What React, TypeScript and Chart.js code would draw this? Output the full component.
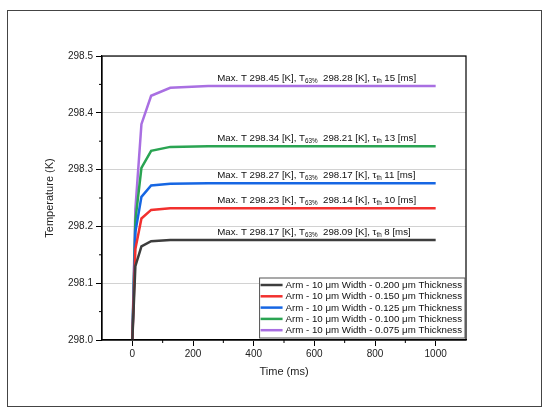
import { useEffect, useRef } from "react";
import { Chart, registerables } from "chart.js";

Chart.register(...registerables);

// time samples (ms)
const times = [0, 10, 30, 62, 125, 250, 500, 1000];

// temperature (K) for each thickness
const temp200 = [298.0, 298.13, 298.165, 298.174, 298.176, 298.176, 298.176, 298.176];
const temp150 = [298.0, 298.16, 298.214, 298.229, 298.232, 298.232, 298.232, 298.232];
const temp125 = [298.0, 298.19, 298.252, 298.272, 298.275, 298.276, 298.276, 298.276];
const temp100 = [298.0, 298.21, 298.303, 298.333, 298.34, 298.341, 298.341, 298.341];
const temp075 = [298.0, 298.23, 298.38, 298.43, 298.444, 298.447, 298.447, 298.447];

const seriesLabels = [
  "Arm - 10 μm Width - 0.200 μm Thickness",
  "Arm - 10 μm Width - 0.150 μm Thickness",
  "Arm - 10 μm Width - 0.125 μm Thickness",
  "Arm - 10 μm Width - 0.100 μm Thickness",
  "Arm - 10 μm Width - 0.075 μm Thickness",
];
const seriesColors = ["#3d3d3d", "#f2302e", "#1666e3", "#2aa452", "#a96fe2"];

// annotation values
const maxT = ["298.17", "298.23", "298.27", "298.34", "298.45"];
const t63 = ["298.09", "298.14", "298.17", "298.21", "298.28"];
const tauTh = ["8", "10", "11", "13", "15"];

const xTicks = [0, 200, 400, 600, 800, 1000];
const xMinorTicks = [100, 300, 500, 700, 900];
const yTicks = [298.0, 298.1, 298.2, 298.3, 298.4, 298.5];
const yMinorTicks = [298.05, 298.15, 298.25, 298.35, 298.45];

const FONT = '"Liberation Sans", Arial, sans-serif';
const LABEL_T = 280;

const framePlugin = {
  id: "frame",
  afterDraw(chart: any) {
    const { ctx, chartArea: a, scales } = chart;
    ctx.save();
    ctx.strokeStyle = "#000";
    ctx.lineWidth = 1.2;
    ctx.strokeRect(a.left, a.top, a.right - a.left, a.bottom - a.top);
    ctx.lineWidth = 1;
    ctx.beginPath();
    xMinorTicks.forEach((v) => {
      const px = scales.x.getPixelForValue(v);
      ctx.moveTo(px, a.bottom);
      ctx.lineTo(px, a.bottom + 3);
    });
    yMinorTicks.forEach((v) => {
      const py = scales.y.getPixelForValue(v);
      ctx.moveTo(a.left, py);
      ctx.lineTo(a.left - 3, py);
    });
    ctx.stroke();
    ctx.restore();
  },
};

const notesPlugin = {
  id: "notes",
  afterDatasetsDraw(chart: any) {
    const { ctx, scales } = chart;
    ctx.save();
    ctx.fillStyle = "#111";
    ctx.textBaseline = "middle";
    ctx.textAlign = "left";
    chart.data.datasets.forEach((ds: any, i: number) => {
      const last = ds.data[ds.data.length - 1].y;
      let px = scales.x.getPixelForValue(LABEL_T);
      const py = scales.y.getPixelForValue(last) - 8;
      const parts = [
        { s: "Max. T " + maxT[i] + " [K], T", sub: false },
        { s: "63%", sub: true },
        { s: "  " + t63[i] + " [K], τ", sub: false },
        { s: "th", sub: true },
        { s: " " + tauTh[i] + " [ms]", sub: false },
      ];
      parts.forEach((p) => {
        ctx.font = (p.sub ? "6.3px " : "9.7px ") + FONT;
        ctx.fillText(p.s, px, p.sub ? py + 3 : py);
        px += ctx.measureText(p.s).width;
      });
    });
    ctx.restore();
  },
};

const legendPlugin = {
  id: "boxLegend",
  afterDraw(chart: any) {
    const { ctx, chartArea: a } = chart;
    const datasets = chart.data.datasets;
    ctx.save();
    ctx.font = "9.7px " + FONT;
    const rowH = 11.3;
    const textW = Math.max(...datasets.map((d: any) => ctx.measureText(d.label).width));
    const boxW = 26 + textW + 3;
    const boxH = 14.8 + rowH * (datasets.length - 1);
    const right = a.right - 1;
    const bottom = a.bottom - 2;
    const left = right - boxW;
    const top = bottom - boxH;
    ctx.fillStyle = "#fff";
    ctx.fillRect(left, top, boxW, boxH);
    ctx.strokeStyle = "#555";
    ctx.lineWidth = 1;
    ctx.strokeRect(left, top, boxW, boxH);
    ctx.textBaseline = "middle";
    datasets.forEach((d: any, i: number) => {
      const y = top + 7 + i * rowH;
      ctx.strokeStyle = d.borderColor;
      ctx.lineWidth = 2.5;
      ctx.beginPath();
      ctx.moveTo(left + 1, y);
      ctx.lineTo(left + 23, y);
      ctx.stroke();
      ctx.fillStyle = "#111";
      ctx.fillText(d.label, left + 26, y + 0.5);
    });
    ctx.restore();
  },
};

export default function App() {
  const canvasEl: any = useRef(null);

  useEffect(() => {
    const ctx = canvasEl.current.getContext("2d") as any;
    const series = [temp200, temp150, temp125, temp100, temp075];

    const data = {
      datasets: series.map((s, i) => ({
        label: seriesLabels[i],
        data: s.map((v, j) => ({ x: times[j], y: v })),
        borderColor: seriesColors[i],
        backgroundColor: seriesColors[i],
        borderWidth: 2.5,
        pointRadius: 0,
        tension: 0,
        fill: false,
      })),
    };

    const config = {
      type: "line",
      data: data,
      options: {
        animation: false,
        responsive: true,
        maintainAspectRatio: false,
        layout: { padding: { left: 0, top: 56, right: 84, bottom: 0 } },
        plugins: { legend: { display: false }, tooltip: { enabled: false } },
        scales: {
          x: {
            type: "linear",
            min: -100,
            max: 1100,
            afterBuildTicks: (scale: any) => {
              scale.ticks = xTicks.map((v) => ({ value: v }));
            },
            afterFit: (scale: any) => {
              scale.height = 75;
            },
            ticks: {
              color: "#222",
              font: { family: FONT, size: 10 },
              padding: 2,
              maxRotation: 0,
              callback: (v: any) => String(v),
            },
            grid: { drawOnChartArea: false, tickColor: "#000", tickLength: 6 },
            border: { display: true, color: "#000", width: 1.2 },
            title: {
              display: true,
              text: "Time (ms)",
              color: "#222",
              font: { family: FONT, size: 11 },
              padding: { top: 0, bottom: 36 },
            },
          },
          y: {
            type: "linear",
            min: 298.0,
            max: 298.5,
            afterBuildTicks: (scale: any) => {
              scale.ticks = yTicks.map((v) => ({ value: v }));
            },
            afterFit: (scale: any) => {
              scale.width = 102;
            },
            ticks: {
              color: "#222",
              font: { family: FONT, size: 10 },
              padding: 3,
              callback: (v: any) => Number(v).toFixed(1),
            },
            grid: { color: "#d2d2d2", lineWidth: 1, tickColor: "#000", tickLength: 6 },
            border: { display: true, color: "#000", width: 1.2 },
            title: {
              display: true,
              text: "Temperature (K)",
              color: "#222",
              font: { family: FONT, size: 11 },
              padding: { top: 43, bottom: 0 },
            },
          },
        },
      },
      plugins: [notesPlugin, framePlugin, legendPlugin],
    };

    const myChart = new Chart(ctx, config as any);

    return () => {
      myChart.destroy();
    };
  }, []);

  return (
    <div style={{ position: "fixed", left: 0, top: 0, width: 550, height: 415, background: "#fff" }}>
      <div
        style={{
          position: "absolute",
          left: 7,
          top: 10,
          width: 533,
          height: 395,
          border: "1.5px solid #444",
        }}
      />
      <div style={{ position: "absolute", left: 0, top: 0, width: 550, height: 415 }}>
        <canvas ref={canvasEl} />
      </div>
    </div>
  );
}
